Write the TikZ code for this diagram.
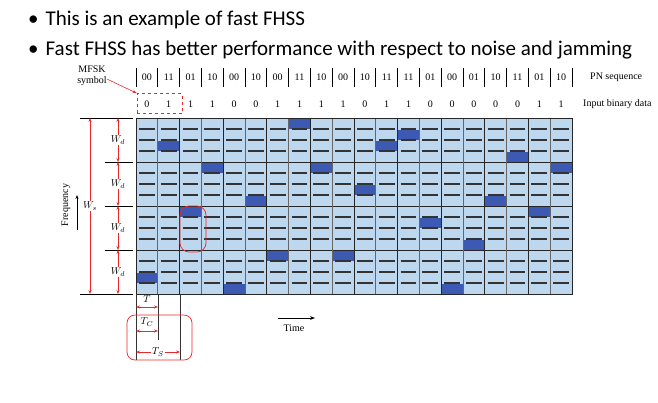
\documentclass[tikz,border=0pt]{standalone}
\usepackage{fontspec}
\setmainfont{Liberation Serif}
\newfontfamily\calib{Carlito}
\usetikzlibrary{arrows.meta}
\definecolor{cellbg}{RGB}{189,215,238}
\definecolor{hop}{RGB}{60,90,180}
\definecolor{rl}{RGB}{235,40,40}
\tikzset{
  lbl/.style={font=\fontsize{10}{11}\selectfont, inner sep=0pt},
  dim/.style={rl, {Stealth[length=4pt]}-{Stealth[length=4pt]}, line width=0.7pt},
  bul/.style={font=\calib\fontsize{21}{24}\selectfont, anchor=west, inner sep=0pt}
}
\begin{document}
\begin{tikzpicture}[x=1pt,y=-1pt]
\useasboundingbox (0,0) rectangle (658,402);
\begin{scope}
\clip (0,0) rectangle (658,402);
\node[bul] (b1) at (28,20) {•\hspace{7pt}This is an example of fast FHSS};
\node[bul] (b2) at (28,50) {•\hspace{7pt}Fast FHSS has better performance with respect to noise and jamming};
% grid
\fill[cellbg] (136,118) rectangle (572,294);
\foreach \c/\r in {0/14,1/2,2/8,3/4,4/15,5/7,6/12,7/0,8/4,9/12,10/6,11/2,12/1,13/9,14/15,15/11,16/7,17/3,18/8,19/4}{
  \fill[hop] ({136+\c*21.8},{118+\r*11+0.5}) rectangle ({136+(\c+1)*21.8},{118+(\r+1)*11-0.5});
}
\foreach \c in {0,...,19}{
  \foreach \r in {1,2,3,5,6,7,9,10,11,13,14,15}{
    \draw[black!80, line width=1.1pt] ({136+\c*21.8+3},{118+\r*11}) -- ({136+(\c+1)*21.8-3},{118+\r*11});
  }
}
\foreach \r in {4,8,12}{\draw[black!85, line width=0.9pt] (136,{118+\r*11}) -- (572,{118+\r*11});}
\foreach \c in {1,...,19}{
  \pgfmathtruncatemacro\odd{mod(\c,2)}
  \ifnum\odd=0 \draw[black!85, line width=1pt] ({136+\c*21.8},118) -- ({136+\c*21.8},294);
  \else \draw[black!60, line width=1pt] ({136+\c*21.8},118) -- ({136+\c*21.8},294); \fi
}
\draw[black!85, line width=1pt] (136,118) rectangle (572,294);
% PN sequence
\foreach \p [count=\i from 0] in {00,11,01,10,00,10,00,11,10,00,10,11,11,01,00,01,10,11,01,10}{
  \node[lbl] (pn\i) at ({136+\i*21.8+10.9},77) {\p};
  \draw[black, line width=0.7pt] ({136+\i*21.8},68) -- ({136+\i*21.8},87);
}
\draw[black, line width=0.7pt] (572,68) -- (572,87);
\node[lbl, anchor=west] (pnl) at (590,77) {PN sequence};
\foreach \b [count=\i from 0] in {0,1,1,1,0,0,1,1,1,1,0,1,1,0,0,0,0,0,1,1}{
  \node[lbl] (ib\i) at ({136+\i*21.8+10.9},104) {\b};
}
\node[lbl, anchor=west] (ibl) at (583,104) {Input binary data};
\node[draw=rl, dashed, line width=0.7pt, minimum width=45pt, minimum height=20pt, inner sep=0pt] (mbox) at (159.5,103.5) {};
\node[lbl, align=center] (mfsk) at (92,76) {MFSK\\symbol};
\draw[rl, -{Stealth[length=4pt]}, line width=0.6pt] (mfsk.east) ++(0,3) -- (mbox.north west);
% left dims
\draw[black, line width=0.8pt] (80,118) -- (133,118);
\draw[black, line width=0.8pt] (80,294) -- (133,294);
\foreach \y in {162,206,250}{\draw[black, line width=0.8pt] (105,\y) -- (133,\y);}
\coordinate (wst) at (90,118); \coordinate (wsb) at (90,294);
\draw[dim] (wst) -- (wsb);
\node[lbl, fill=white, inner sep=1pt] (ws) at (90,206) {$W_s$};
\foreach \a/\b in {118/162,162/206,206/250,250/294}{
  \coordinate (wa\a) at (118,\a); \coordinate (wb\a) at (118,\b);
  \draw[dim] (wa\a) -- (wb\a);
  \node[lbl, fill=white, inner sep=1pt] at (118,{(\a+\b)/2}) {$W_d$};
}
\node[lbl, rotate=90] (freq) at (66,205) {Frequency};
\coordinate (fa) at (77,230); \coordinate (fb) at (77,195);
\draw[black, -{Stealth[length=4pt]}, line width=0.6pt] (fa) -- (fb);
% bottom
\draw[black!80, line width=0.9pt] (136,294) -- (136,360);
\draw[black!80, line width=0.9pt] (158,294) -- (158,340);
\draw[black!80, line width=0.9pt] (180,294) -- (180,360);
\coordinate (t1) at (136,307); \coordinate (t2) at (158,307);
\draw[dim] (t1) -- (t2); \node[lbl] (tl) at (147,299) {$T$};
\coordinate (c1) at (136,331); \coordinate (c2) at (158,331);
\draw[dim] (c1) -- (c2); \node[lbl] (cl) at (147,322) {$T_C$};
\coordinate (s1) at (136,352); \coordinate (s2) at (180,352);
\draw[dim] (s1) -- (s2); \node[lbl, fill=white, inner sep=1pt] (sl) at (158,352) {$T_S$};
\draw[rl, rounded corners=8pt, line width=0.7pt] (127,315) rectangle (192,360);
\draw[rl, rounded corners=9pt, line width=0.7pt] (180,206) rectangle (206,252);
\coordinate (ta) at (278,318); \coordinate (tb) at (315,318);
\draw[black, -{Stealth[length=5pt]}, line width=0.7pt] (ta) -- (tb);
\node[lbl] (time) at (294,328) {Time};
\end{scope}
\end{tikzpicture}
\end{document}
